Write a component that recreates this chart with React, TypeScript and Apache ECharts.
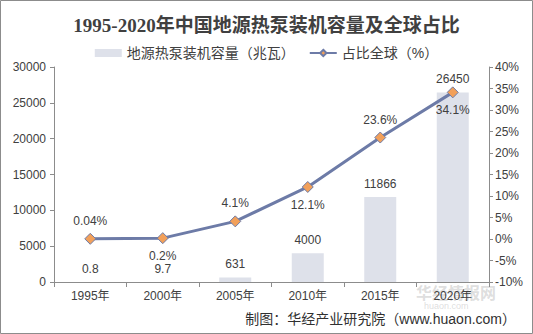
import React, { useEffect, useRef } from "react";
import * as echarts from "echarts";

const categories = ["1995年", "2000年", "2005年", "2010年", "2015年", "2020年"];
const capacity = [0.8, 9.7, 631, 4000, 11866, 26450];
const capacityLabels = ["0.8", "9.7", "631", "4000", "11866", "26450"];
const share = [0.04, 0.2, 4.1, 12.1, 23.6, 34.1];
const shareLabels = ["0.04%", "0.2%", "4.1%", "12.1%", "23.6%", "34.1%"];
const sharePos = ["top", "bottom", "top", "bottom", "top", "bottom"];

const TXT = "#404040";
const FONT = "Liberation Sans, Arial, Noto Sans CJK SC, sans-serif";

export default function App() {
  const ref = useRef<HTMLDivElement>(null);
  useEffect(() => {
    document.body.style.margin = "0";
    const chart = echarts.init(ref.current!, null, { renderer: "svg" });
    chart.setOption({
      animation: false,
      backgroundColor: "#ffffff",
      textStyle: { fontFamily: FONT, color: TXT },
      title: {
        text: "1995-2020年中国地源热泵装机容量及全球占比",
        left: "center",
        top: 11,
        textStyle: {
          fontFamily: "Liberation Serif, Noto Sans CJK SC, serif",
          fontWeight: "bold",
          fontSize: 19,
          color: "#404040",
        },
      },
      legend: {
        top: 41,
        left: "center",
        itemGap: 14,
        itemWidth: 27,
        itemHeight: 8,
        textStyle: { fontSize: 14, color: TXT, fontFamily: FONT },
        data: [
          { name: "地源热泵装机容量（兆瓦）", icon: "rect" },
          { name: "占比全球（%）" },
        ],
      },
      grid: { left: 54, right: 44, top: 67, bottom: 52 },
      xAxis: {
        type: "category",
        data: categories,
        axisLine: { lineStyle: { color: "#8c8c8c" } },
        axisTick: { show: true, alignWithLabel: false, length: 5, lineStyle: { color: "#8c8c8c" } },
        axisLabel: { color: TXT, fontSize: 12, margin: 8 },
      },
      yAxis: [
        {
          type: "value",
          min: 0,
          max: 30000,
          interval: 5000,
          axisLine: { show: true, lineStyle: { color: "#8c8c8c" } },
          axisTick: { show: true, length: 4, lineStyle: { color: "#8c8c8c" } },
          splitLine: { show: false },
          axisLabel: { color: TXT, fontSize: 12, margin: 8, formatter: (v: number) => String(v) },
        },
        {
          type: "value",
          min: -10,
          max: 40,
          interval: 5,
          axisLine: { show: true, lineStyle: { color: "#8c8c8c" } },
          axisTick: { show: true, length: 4, lineStyle: { color: "#8c8c8c" } },
          splitLine: { show: false },
          axisLabel: { color: TXT, fontSize: 12, margin: 6, formatter: "{value}%" },
        },
      ],
      series: [
        {
          name: "地源热泵装机容量（兆瓦）",
          type: "bar",
          data: capacity,
          barWidth: 32,
          itemStyle: { color: "#dee1ea" },
          label: {
            show: true,
            position: "top",
            distance: 7,
            color: TXT,
            fontSize: 12,
            formatter: (p: any) => capacityLabels[p.dataIndex],
          },
          z: 1,
        },
        {
          name: "占比全球（%）",
          type: "line",
          yAxisIndex: 1,
          data: share.map((v, i) => ({
            value: v,
            label: { position: sharePos[i] },
          })),
          symbol: "diamond",
          symbolSize: 11,
          lineStyle: { color: "#6d7ba7", width: 3 },
          itemStyle: { color: "#f2a05a", borderColor: "#6d7ba7", borderWidth: 1 },
          label: {
            show: true,
            distance: 6,
            color: TXT,
            fontSize: 12,
            formatter: (p: any) => shareLabels[p.dataIndex],
          },
          z: 3,
        },
      ],
      graphic: [
        {
          type: "rect",
          shape: { x: 0.5, y: 0.5, width: 532, height: 333 },
          style: { fill: "none", stroke: "#8c8c8c", lineWidth: 1 },
          silent: true,
        },
        {
          type: "text",
          left: 416,
          top: 284,
          style: {
            text: "华经情报网",
            fontSize: 16,
            fontWeight: "bold",
            fill: "rgba(170,170,170,0.4)",
            fontFamily: "Noto Sans CJK SC, sans-serif",
          },
          silent: true,
        },
        {
          type: "text",
          left: 424,
          top: 301,
          style: {
            text: "huaon.com",
            fontSize: 9,
            fill: "rgba(170,170,170,0.4)",
            fontFamily: FONT,
          },
          silent: true,
        },
        {
          type: "text",
          right: 17,
          top: 312,
          style: {
            text: "制图：华经产业研究院（www.huaon.com）",
            fontSize: 14,
            fill: "#303030",
            fontFamily: FONT,
          },
        },
      ],
    });
    return () => chart.dispose();
  }, []);
  return <div ref={ref} style={{ width: 533, height: 334 }} />;
}
